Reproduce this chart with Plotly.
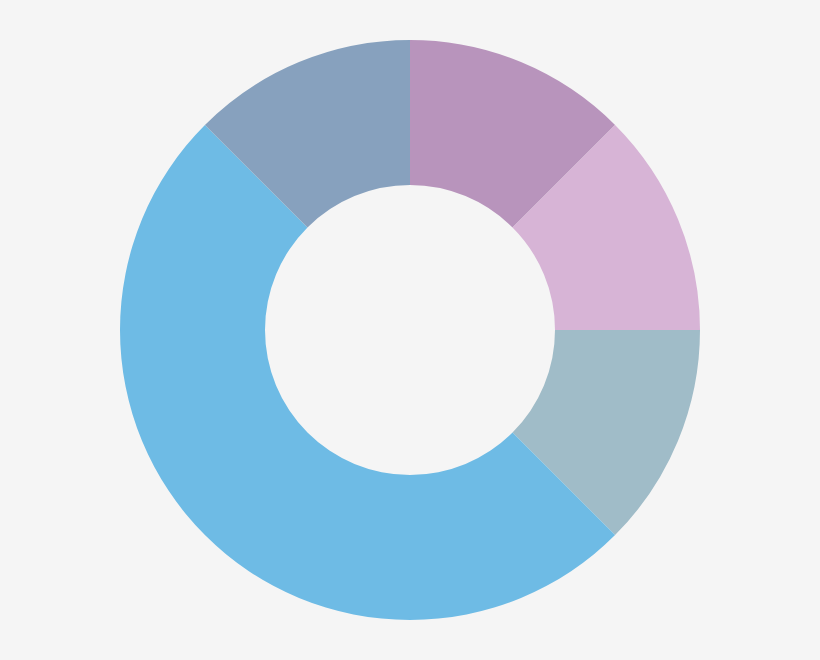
import plotly.graph_objects as go

labels = ["A", "B", "C", "D", "E"]
values = [12.5, 12.5, 12.5, 50, 12.5]
colors = ["#b894bc", "#d7b4d6", "#a0bcc8", "#6ebbe5", "#87a1be"]

fig = go.Figure(go.Pie(
    labels=labels,
    values=values,
    hole=0.5,
    sort=False,
    direction="clockwise",
    rotation=0,
    marker=dict(colors=colors, line=dict(width=0)),
    textinfo="none",
    hoverinfo="label+percent",
))

fig.update_layout(
    width=820,
    height=660,
    showlegend=False,
    paper_bgcolor="#f5f5f5",
    plot_bgcolor="#f5f5f5",
    margin=dict(l=120, r=120, t=40, b=40),
)

# drop the default page margin so the chart sits flush in the window
fig.write_html(
    "out.html",
    config={"displayModeBar": False},
    post_script="document.body.style.margin='0';document.body.style.background='#f5f5f5';",
)
